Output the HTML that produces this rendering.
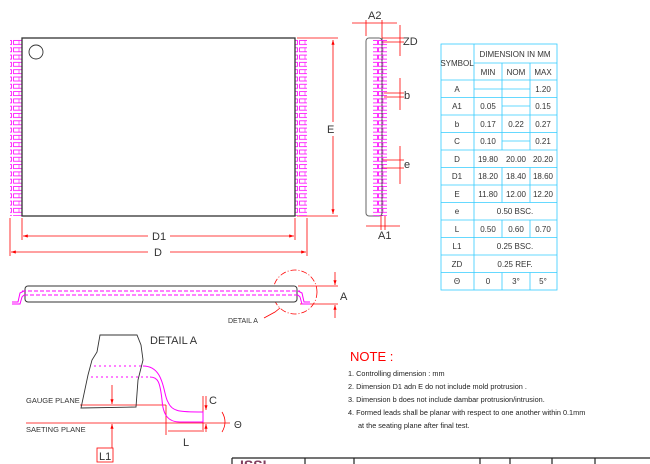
<!DOCTYPE html>
<html><head><meta charset="utf-8"><style>
html,body{margin:0;padding:0;background:#fff;width:650px;height:464px;overflow:hidden}
svg{display:block}
.t{font-family:"Liberation Sans",sans-serif}
.n{font-family:"Liberation Sans Narrow","Liberation Sans",sans-serif}
</style></head><body>
<svg width="650" height="464" viewBox="0 0 650 464" xmlns="http://www.w3.org/2000/svg">
<defs>
<pattern id="pinL" x="0" y="39" width="13" height="7.3" patternUnits="userSpaceOnUse">
<rect x="0.5" y="1.5" width="11" height="4" fill="none" stroke="#f0f" stroke-width="0.8"/>
<line x1="6" y1="1.5" x2="6" y2="5.5" stroke="#f0f" stroke-width="0.6"/>
</pattern>
<pattern id="pinS" x="0" y="39" width="14" height="7.3" patternUnits="userSpaceOnUse">
<rect x="0.5" y="1.5" width="13" height="4" fill="none" stroke="#f0f" stroke-width="0.8"/>
<line x1="5" y1="1.5" x2="5" y2="5.5" stroke="#f0f" stroke-width="0.6"/>
</pattern>
<marker id="ar" markerWidth="6" markerHeight="4" refX="6" refY="2" orient="auto"><path d="M0,0 L6,2 L0,4z" fill="#f00"/></marker>
</defs>
<g stroke="#f00" stroke-width="0.8" fill="none">
<line x1="297" y1="38" x2="338" y2="38"/><line x1="297" y1="216" x2="338" y2="216"/>
<line x1="333" y1="122" x2="333" y2="40" marker-end="url(#ar)"/><line x1="333" y1="136" x2="333" y2="214" marker-end="url(#ar)"/>
<line x1="22" y1="218" x2="22" y2="240"/><line x1="295" y1="218" x2="295" y2="240"/>
<line x1="10" y1="218" x2="10" y2="256"/><line x1="307" y1="218" x2="307" y2="256"/>
<line x1="148" y1="236" x2="23" y2="236" marker-end="url(#ar)"/><line x1="170" y1="236" x2="294" y2="236" marker-end="url(#ar)"/>
<line x1="148" y1="252" x2="11" y2="252" marker-end="url(#ar)"/><line x1="170" y1="252" x2="306" y2="252" marker-end="url(#ar)"/>
<line x1="26" y1="52" x2="46" y2="52"/><line x1="36" y1="42" x2="36" y2="62"/>
<line x1="352" y1="23" x2="397" y2="23"/><line x1="366" y1="20" x2="366" y2="36"/><line x1="382" y1="20" x2="382" y2="38"/>
<line x1="400" y1="25" x2="400" y2="56"/><line x1="382" y1="38" x2="404" y2="38"/><line x1="378" y1="42" x2="404" y2="42"/>
<line x1="400" y1="78" x2="400" y2="110"/><line x1="384" y1="93" x2="404" y2="93"/><line x1="384" y1="97" x2="404" y2="97"/>
<line x1="400" y1="146" x2="400" y2="184"/><line x1="372" y1="160" x2="404" y2="160"/><line x1="372" y1="168" x2="404" y2="168"/>
<line x1="366" y1="226" x2="400" y2="226"/><line x1="381" y1="216" x2="381" y2="230"/><line x1="385" y1="216" x2="385" y2="230"/>
<circle cx="295" cy="292" r="22" stroke-dasharray="6,2,1,2"/>
<path d="M264,318 L275,312 L280,308"/>
<line x1="298" y1="286" x2="338" y2="286"/><line x1="300" y1="304" x2="338" y2="304"/>
<line x1="335" y1="272" x2="335" y2="285" marker-end="url(#ar)"/><line x1="335" y1="318" x2="335" y2="305" marker-end="url(#ar)"/>
<line x1="80" y1="405" x2="166" y2="405"/>
<line x1="26" y1="423" x2="230" y2="423"/>
<line x1="112" y1="385" x2="112" y2="404" marker-end="url(#ar)"/>
<line x1="112" y1="448" x2="112" y2="424" marker-end="url(#ar)"/>
<line x1="166" y1="405" x2="166" y2="435"/><line x1="203" y1="396" x2="203" y2="432"/>
<line x1="168" y1="431" x2="202" y2="431"/>
<line x1="206" y1="396" x2="206" y2="410" marker-end="url(#ar)"/><line x1="206" y1="432" x2="206" y2="424" marker-end="url(#ar)"/>
<path d="M222,412 Q228,422 222,432"/>
<rect x="97" y="448" width="16" height="14"/>
</g>
<rect x="10" y="38" width="12" height="178" fill="url(#pinL)"/>
<rect x="295" y="38" width="12" height="178" fill="url(#pinL)"/>
<rect x="22" y="38" width="273" height="178" fill="#fff" stroke="#333" stroke-width="1.3"/>
<circle cx="36" cy="52" r="7" fill="none" stroke="#333" stroke-width="0.9"/>
<rect x="366" y="38" width="16" height="178" rx="3" fill="#fff" stroke="#666" stroke-width="1"/>
<rect x="373" y="38" width="14" height="178" fill="url(#pinS)"/>
<line x1="382" y1="38" x2="382" y2="216" stroke="#333" stroke-width="0.8" stroke-dasharray="2,1"/>
<rect x="25" y="286" width="272" height="16" rx="3" fill="#fff" stroke="#333" stroke-width="1"/>
<g stroke="#f0f" stroke-width="1" fill="none">
<path d="M22,291 L300,291" stroke-dasharray="4,2"/>
<path d="M24,295 L298,295" stroke-dasharray="4,2"/>
<path d="M12,302 L18,302 L20,293 L24,291"/>
<path d="M12,304 L20,304 L22,297 L24,295"/>
<path d="M298,291 L302,293 L304,302 L310,302"/>
<path d="M298,295 L300,297 L302,304 L310,304"/>
<path d="M91,366 L143,366 C165,366 163,395 168,402 C172,412 180,412 203,412 L203,422 L180,422 C168,422 163,415 162,400 C160,382 158,377 150,377 L88,377"/>
</g>
<path d="M91,366 L143,366 M88,377 L150,377" stroke="#fff" stroke-width="1.2" stroke-dasharray="3,2" fill="none"/>
<path d="M100,335 L137,335 L141,345 L143,360 L138,380 L136,407 L81,408 L88,375 L92,360 L97,352 Z" fill="none" stroke="#333" stroke-width="0.9"/>
<g fill="#333" class="t" font-size="11">
<text x="327" y="133">E</text>
<text x="152" y="240">D1</text>
<text x="154" y="256">D</text>
<text x="368" y="19">A2</text>
<text x="403" y="45">ZD</text>
<text x="404" y="99">b</text>
<text x="404" y="168">e</text>
<text x="378" y="239">A1</text>
<text x="340" y="300">A</text>
<text x="183" y="446">L</text>
<text x="209" y="404">C</text>
<text x="99" y="460">L1</text>
<text x="234" y="428" font-size="10">Θ</text>
</g>
<g fill="#333" class="n" font-size="8">
<text x="228" y="323" font-size="7">DETAIL A</text>
<text x="150" y="344" font-size="11">DETAIL A</text>
<text x="26" y="403" font-size="7.5">GAUGE PLANE</text>
<text x="26" y="432" font-size="7.5">SAETING PLANE</text>
</g>
<g stroke="#3cf" stroke-width="0.8" fill="none">
<rect x="441" y="44" width="116" height="246"/>
<line x1="474" y1="44" x2="474" y2="290"/>
<line x1="474" y1="63" x2="557" y2="63"/>
<line x1="502" y1="63" x2="502" y2="150"/><line x1="530" y1="63" x2="530" y2="150"/>
<line x1="502" y1="167.5" x2="502" y2="202.5"/><line x1="530" y1="167.5" x2="530" y2="202.5"/>
<line x1="502" y1="220" x2="502" y2="237.5"/><line x1="530" y1="220" x2="530" y2="237.5"/>
<line x1="474" y1="89" x2="530" y2="89"/>
<line x1="502" y1="106" x2="530" y2="106"/>
<line x1="502" y1="141" x2="530" y2="141"/>
<line x1="502" y1="272.5" x2="502" y2="290"/><line x1="530" y1="272.5" x2="530" y2="290"/>
<line x1="441" y1="80" x2="557" y2="80"/><line x1="441" y1="97.5" x2="557" y2="97.5"/>
<line x1="441" y1="115" x2="557" y2="115"/><line x1="441" y1="132.5" x2="557" y2="132.5"/>
<line x1="441" y1="150" x2="557" y2="150"/><line x1="441" y1="167.5" x2="557" y2="167.5"/>
<line x1="441" y1="185" x2="557" y2="185"/><line x1="441" y1="202.5" x2="557" y2="202.5"/>
<line x1="441" y1="220" x2="557" y2="220"/><line x1="441" y1="237.5" x2="557" y2="237.5"/>
<line x1="441" y1="255" x2="557" y2="255"/><line x1="441" y1="272.5" x2="557" y2="272.5"/>
</g>
<g fill="#333" class="n" font-size="8" text-anchor="middle">
<text x="457" y="66">SYMBOL</text>
<text x="515" y="57">DIMENSION IN MM</text>
<text x="488" y="75">MIN</text><text x="516" y="75">NOM</text><text x="543" y="75">MAX</text>
<text x="457" y="92">A</text><text x="543" y="92">1.20</text>
<text x="457" y="109">A1</text><text x="488" y="109">0.05</text><text x="543" y="109">0.15</text>
<text x="457" y="127">b</text><text x="488" y="127">0.17</text><text x="516" y="127">0.22</text><text x="543" y="127">0.27</text>
<text x="457" y="144">C</text><text x="488" y="144">0.10</text><text x="543" y="144">0.21</text>
<text x="457" y="162">D</text><text x="488" y="162">19.80</text><text x="516" y="162">20.00</text><text x="543" y="162">20.20</text>
<text x="457" y="179">D1</text><text x="488" y="179">18.20</text><text x="516" y="179">18.40</text><text x="543" y="179">18.60</text>
<text x="457" y="197">E</text><text x="488" y="197">11.80</text><text x="516" y="197">12.00</text><text x="543" y="197">12.20</text>
<text x="457" y="214">e</text><text x="515" y="214">0.50 BSC.</text>
<text x="457" y="232">L</text><text x="488" y="232">0.50</text><text x="516" y="232">0.60</text><text x="543" y="232">0.70</text>
<text x="457" y="249">L1</text><text x="515" y="249">0.25 BSC.</text>
<text x="457" y="267">ZD</text><text x="515" y="267">0.25 REF.</text>
<text x="457" y="284">Θ</text><text x="488" y="284">0</text><text x="516" y="284">3°</text><text x="543" y="284">5°</text>
</g>
<text x="350" y="361" class="t" font-size="13" fill="#f00">NOTE :</text>
<g class="t" font-size="7.3" fill="#222">
<text x="348" y="376">1. Controlling  dimension : mm</text>
<text x="348" y="389">2. Dimension D1 adn  E do not include mold protrusion .</text>
<text x="348" y="402">3. Dimension b does not include dambar protrusion/intrusion.</text>
<text x="348" y="415">4. Formed leads shall be planar with respect to one another within 0.1mm</text>
<text x="358" y="428">at the seating plane after final test.</text>
</g>
<g stroke="#222" stroke-width="1.2">
<line x1="232" y1="458" x2="650" y2="458"/>
<line x1="232" y1="458" x2="232" y2="464"/><line x1="305" y1="458" x2="305" y2="464"/>
<line x1="354" y1="458" x2="354" y2="464"/><line x1="480" y1="458" x2="480" y2="464"/>
<line x1="510" y1="458" x2="510" y2="464"/><line x1="552" y1="458" x2="552" y2="464"/>
<line x1="595" y1="458" x2="595" y2="464"/>
</g>
<text x="240" y="470" class="t" font-size="14" font-weight="bold" fill="#804060">ISSI</text>
</svg>
</body></html>
